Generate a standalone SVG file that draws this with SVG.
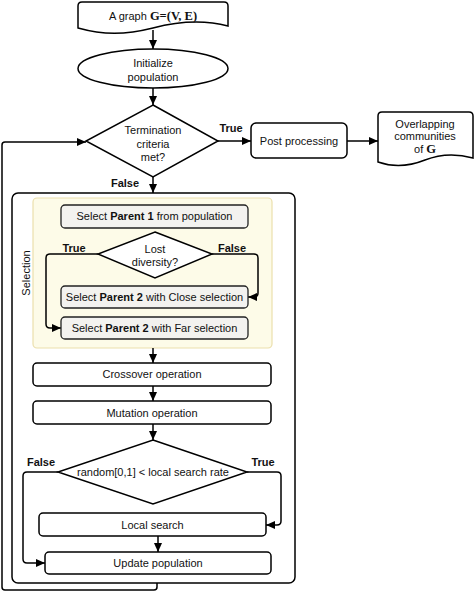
<svg xmlns="http://www.w3.org/2000/svg" width="474" height="593" viewBox="0 0 474 593">
<defs>
<marker id="ah" markerWidth="9" markerHeight="8" refX="9" refY="4" orient="auto" markerUnits="userSpaceOnUse">
<path d="M0,0 L9,4 L0,8 Z" fill="#000"/>
</marker>
<style>
text{font-family:"Liberation Sans",Arial,sans-serif;font-size:11px;fill:#111;}
.c{text-anchor:middle;}
.b{font-weight:bold;}
.s{font-family:"Liberation Serif","Times New Roman",serif;font-weight:bold;font-size:12.5px;}
.n{fill:#fff;stroke:#000;stroke-width:1.5;}
.g{fill:#f3f2ef;stroke:#222;stroke-width:1.3;}
.e{fill:none;stroke:#000;stroke-width:1.5;}
.a{fill:none;stroke:#000;stroke-width:1.5;marker-end:url(#ah);}
</style>
</defs>
<rect width="474" height="593" fill="#fff"/>

<g id="loop-container">
<rect x="12" y="193" width="283" height="390" rx="6" class="n"/>
</g>
<g id="selection-group">
<rect x="33" y="198" width="239" height="150" rx="4" fill="#fdfbe8" stroke="#ebdfac" stroke-width="1.2"/>
<text class="c" transform="translate(30,273) rotate(-90)">Selection</text>
</g>

<g id="connectors">
<path class="a" d="M153,30 V49"/>
<path class="a" d="M153,88 V105"/>
<path class="a" d="M218,141 H251"/>
<path class="a" d="M347,141 H378"/>
<path class="a" d="M153,177 V193"/>
<path class="a" d="M157,583 V587 Q157,590 154,590 H5 Q2,590 2,587 V145 Q2,142 5,142 H86"/>
<path class="a" d="M98,254 H50 Q46,254 46,258 V324 Q46,328 50,328 H61"/>
<path class="a" d="M212,254 H254 Q258,254 258,258 V293 Q258,297 254,297 H248"/>
<path class="a" d="M153,348 V363"/>
<path class="a" d="M153,386 V401"/>
<path class="a" d="M153,424 V440"/>
<path class="a" d="M58,472 H27 Q23,472 23,476 V559 Q23,563 27,563 H45"/>
<path class="a" d="M247,472 H277 Q281,472 281,476 V521 Q281,525 277,525 H266"/>
<path class="a" d="M158,536 V552"/>
<text class="b c" x="231" y="132">True</text>
<text class="b c" x="125" y="187">False</text>
<text class="b c" x="74" y="252">True</text>
<text class="b c" x="232" y="252">False</text>
<text class="b c" x="41" y="466">False</text>
<text class="b c" x="263" y="466">True</text>
</g>

<g id="input-graph">
<path class="n" d="M78,28 V6 Q78,2 82,2 H224 Q228,2 228,6 V26 C205,20 180,21 153,28 C125,35 103,35 78,28 Z"/>
<text class="c" x="153" y="20">A graph <tspan class="s">G=(V, E)</tspan></text>
</g>

<g id="init-population">
<ellipse cx="153" cy="68.5" rx="75" ry="19.5" class="n"/>
<text class="c" x="153" y="67">Initialize</text>
<text class="c" x="153" y="81">population</text>
</g>

<g id="termination">
<path class="n" d="M153,105 L218,141 L153,177 L86,141 Z"/>
<text class="c" x="153" y="134">Termination</text>
<text class="c" x="153" y="148">criteria</text>
<text class="c" x="153" y="161">met?</text>
</g>

<g id="post-processing">
<rect x="251" y="123" width="96" height="35" rx="5" class="n"/>
<text class="c" x="299" y="145">Post processing</text>
</g>

<g id="output-communities">
<path class="n" d="M378,162 V116 Q378,112 382,112 H469 Q473,112 473,116 V158 C455,153 440,154 425,160 C410,166 395,168 378,162 Z"/>
<text class="c" x="425" y="128">Overlapping</text>
<text class="c" x="425" y="140">communities</text>
<text class="c" x="425" y="153">of <tspan class="s">G</tspan></text>
</g>

<g id="select-parent1">
<rect x="61" y="205" width="187" height="23" rx="4" class="g"/>
<text class="c" x="154.5" y="220">Select <tspan class="b">Parent 1</tspan> from population</text>
</g>

<g id="lost-diversity">
<path class="n" d="M155,232 L212,254 L155,278 L98,254 Z"/>
<text class="c" x="155" y="253">Lost</text>
<text class="c" x="155" y="266">diversity?</text>
</g>

<g id="close-selection">
<rect x="61" y="286" width="187" height="22" rx="4" class="g"/>
<text class="c" x="154.5" y="301">Select <tspan class="b">Parent 2</tspan> with Close selection</text>
</g>

<g id="far-selection">
<rect x="61" y="317" width="187" height="22" rx="4" class="g"/>
<text class="c" x="154.5" y="332">Select <tspan class="b">Parent 2</tspan> with Far selection</text>
</g>

<g id="crossover">
<rect x="33" y="363" width="238" height="23" rx="4" class="n"/>
<text class="c" x="152" y="378">Crossover operation</text>
</g>

<g id="mutation">
<rect x="33" y="401" width="238" height="23" rx="4" class="n"/>
<text class="c" x="152" y="417">Mutation operation</text>
</g>

<g id="local-search-decision">
<path class="n" d="M153,440 L247,472 L153,504 L58,472 Z"/>
<text class="c" x="153" y="476">random[0,1] &lt; local search rate</text>
</g>

<g id="local-search">
<rect x="39" y="513" width="227" height="23" rx="4" class="n"/>
<text class="c" x="152.5" y="529">Local search</text>
</g>

<g id="update-population">
<rect x="45" y="552" width="226" height="22" rx="4" class="n"/>
<text class="c" x="158" y="567">Update population</text>
</g>
</svg>
